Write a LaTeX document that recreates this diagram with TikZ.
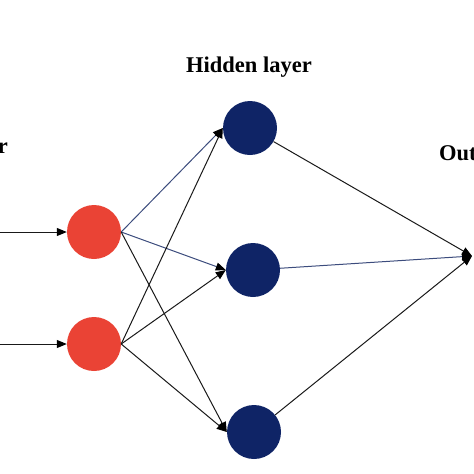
\documentclass[tikz,border=0pt]{standalone}
\usepackage{fontspec}
\setmainfont{Liberation Serif}
\usetikzlibrary{arrows.meta}
\definecolor{inred}{RGB}{234,67,53}
\definecolor{hidnavy}{RGB}{15,36,102}
\definecolor{linkblue}{RGB}{60,76,125}
\definecolor{linkdark}{RGB}{25,25,25}
\begin{document}
\begin{tikzpicture}[x=1pt,y=-1pt,
  neuronin/.style={circle,fill=inred,draw=none,minimum size=54pt,inner sep=0pt},
  neuronhid/.style={circle,fill=hidnavy,draw=none,minimum size=54pt,inner sep=0pt},
  link/.style={draw=linkdark,line width=1pt},
  linkb/.style={draw=linkblue,line width=1pt},
  arr/.style={-{Triangle[length=10pt,width=8pt,color=black]}},
  lbl/.style={font=\fontsize{22.5}{26}\selectfont\bfseries,inner sep=0pt}]
\useasboundingbox (0,0) rectangle (474,474);
\clip (0,0) rectangle (474,474);
% neurons
\node[neuronin] (i1) at (94,232) {};
\node[neuronin] (i2) at (94,344) {};
\node[neuronhid] (h1) at (250,128) {};
\node[neuronhid] (h2) at (253,270) {};
\node[neuronhid] (h3) at (254,432) {};
\coordinate (out) at (472,256);
\coordinate (s1) at (-2,232);
\coordinate (s2) at (-2,344);
% labels
\node[lbl,anchor=base east] (linput) at (8,153) {Input layer};
\node[lbl,anchor=base] (lhidden) at (249,72) {Hidden layer};
\node[lbl,anchor=base west] (loutput) at (439,160) {Output layer};
% input arrows
\draw[link,arr] (s1) -- (i1.west);
\draw[link,arr] (s2) -- (i2.west);
% input -> hidden
\draw[linkb,arr] (i1.east) -- (h1.west);
\draw[linkb,arr] (i1.east) -- (h2.west);
\draw[link,arr] (i1.east) -- (h3.west);
\draw[link,arr] (i2.east) -- (h1.west);
\draw[link,arr] (i2.east) -- (h2.west);
\draw[link,arr] (i2.east) -- (h3.west);
% hidden -> output
\draw[link,arr] (h1) -- (out);
\draw[linkb,arr] (h2) -- (out);
\draw[link,arr] (h3) -- (out);
\end{tikzpicture}
\end{document}
